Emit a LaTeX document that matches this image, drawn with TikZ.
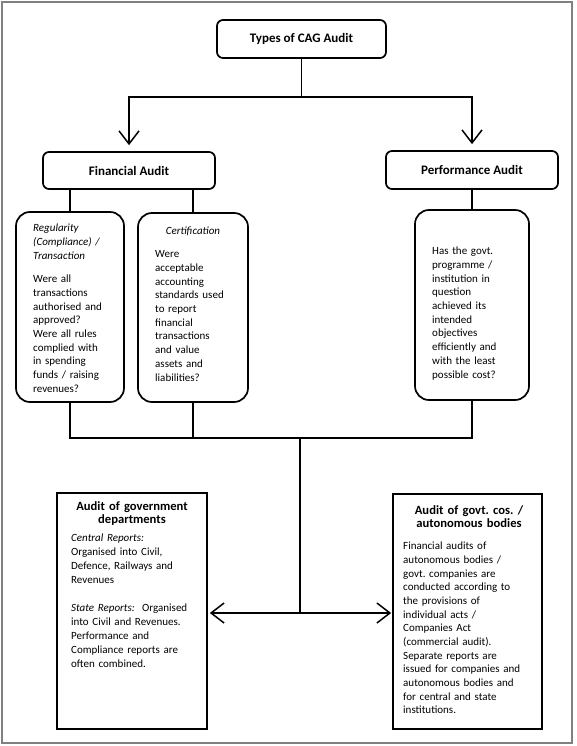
\documentclass[tikz,border=0pt]{standalone}
\usepackage{fontspec}
\setmainfont{Carlito}
\usetikzlibrary{arrows.meta}
\frenchspacing
\begin{document}
\frenchspacing
\begin{tikzpicture}[x=1pt,y=-1pt,
  frame/.style={draw=black!50, line width=1.8pt},
  hbox/.style={draw, line width=1.7pt, rounded corners=6pt, inner sep=0pt, font=\bfseries\fontsize{13}{15}\selectfont},
  qbox/.style={draw, line width=1.7pt, rounded corners=14pt, inner sep=0pt},
  sbox/.style={draw, line width=1.7pt, inner sep=0pt},
  txt/.style={inner sep=0pt, align=left, anchor=north west, text width=140pt, font=\fontsize{11}{13.7}\selectfont},
  ctxt/.style={inner sep=0pt, align=center, anchor=north, text width=150pt},
  conn/.style={line width=1.7pt},
  arr/.style={conn, -{Straight Barb[length=13pt,width=20pt,line width=1.5pt]}},
  darr/.style={conn, {Straight Barb[length=13pt,width=20pt,line width=1.5pt]}-{Straight Barb[length=13pt,width=20pt,line width=1.5pt]}}
]
\useasboundingbox (0,0) rectangle (576,746);
\draw[frame] (1.8,1.8) rectangle (572,743);

% header boxes
\node[hbox, minimum width=169pt, minimum height=38pt] (top) at (301.5,39) {Types of CAG Audit};
\node[hbox, minimum width=172pt, minimum height=37pt] (fin) at (129,170.5) {Financial Audit};
\node[hbox, minimum width=172pt, minimum height=38pt] (perf) at (472,170) {Performance Audit};

% question boxes
\node[qbox, minimum width=108pt, minimum height=190pt] (reg) at (70,307) {};
\node[qbox, minimum width=110pt, minimum height=189pt] (cert) at (193,307.5) {};
\node[qbox, minimum width=114pt, minimum height=190pt] (perfq) at (472,305) {};

% bottom boxes
\node[sbox, minimum width=150pt, minimum height=236pt] (govt) at (132,611) {};
\node[sbox, minimum width=149pt, minimum height=235pt] (cos) at (467.5,611.5) {};

% texts
\node[txt, font=\itshape\fontsize{11}{14}\selectfont] (regh) at (33,221) {\strut Regularity\\(Compliance) /\\Transaction};
\node[txt] (regb) at (33,273) {\strut Were all\\transactions\\authorised and\\approved?\\Were all rules\\complied with\\in spending\\funds / raising\\revenues?};
\node[ctxt, font=\itshape\fontsize{11}{13.7}\selectfont] (certh) at (193,225) {\strut Certification};
\node[txt] (certb) at (155,248) {\strut Were\\acceptable\\accounting\\standards used\\to report\\financial\\transactions\\and value\\assets and\\liabilities?};
\node[txt] (perfb) at (432,245) {\strut Has the govt.\\programme /\\institution in\\question\\achieved its\\intended\\objectives\\efficiently and\\with the least\\possible cost?};

\node[ctxt, font=\bfseries\fontsize{12.6}{13.5}\selectfont] (govh) at (132,500.5) {\strut Audit of government\\departments};
\node[txt, font=\fontsize{11}{14}\selectfont] (govb1) at (71,531) {\strut\textit{Central Reports:}\\Organised into Civil,\\Defence, Railways and\\Revenues};
\node[txt, font=\fontsize{11}{14}\selectfont] (govb2) at (71,601) {\strut\textit{State Reports:}\ \ Organised\\into Civil and Revenues.\\Performance and\\Compliance reports are\\often combined.};

\node[ctxt, font=\bfseries\fontsize{12.6}{13.5}\selectfont] (cosh) at (469,504.5) {\strut Audit of govt. cos. /\\autonomous bodies};
\node[txt, font=\fontsize{11}{13.67}\selectfont] (cosb) at (403,540) {\strut Financial audits of\\autonomous bodies /\\govt. companies are\\conducted according to\\the provisions of\\individual acts /\\Companies Act\\(commercial audit).\\Separate reports are\\issued for companies and\\autonomous bodies and\\for central and state\\institutions.};

% connectors
\coordinate (split) at (301.5,97);
\coordinate (hub) at (300,438);
\coordinate (mid) at (300,613);
\draw[conn] (top.south) -- (split);
\draw[arr, shorten >=6pt] (split) -| (fin.north);
\draw[arr, shorten >=6pt] (split) -| (perf.north);

\draw[conn] (fin.south -| reg.north) -- (reg.north);
\draw[conn] (fin.south -| cert.north) -- (cert.north);
\draw[conn] (perf.south) -- (perfq.north);

\draw[conn] (reg.south) -- (reg.south |- hub) -- (perfq.south |- hub) -- (perfq.south);
\draw[conn] (cert.south) -- (cert.south |- hub);
\draw[conn] (hub) -- (mid);
\draw[darr, shorten <=2pt, shorten >=1pt] (mid -| govt.east) -- (mid -| cos.west);
\end{tikzpicture}
\end{document}
